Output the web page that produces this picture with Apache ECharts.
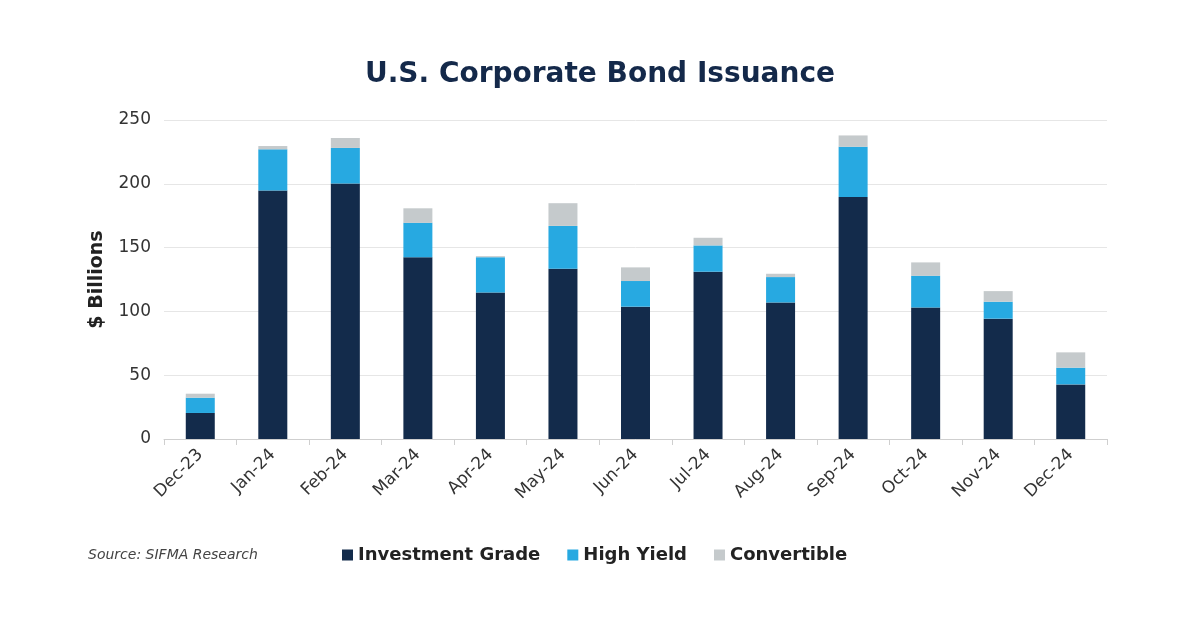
<!DOCTYPE html>
<html><head><meta charset="utf-8">
<script src="https://cdn.jsdelivr.net/npm/echarts@6/dist/echarts.min.js"></script>
<style>html,body{margin:0;padding:0;background:#fff}#c{width:1200px;height:627px}</style>
</head><body><div id="c"></div>
<script>
const categories = ['Dec-23','Jan-24','Feb-24','Mar-24','Apr-24','May-24','Jun-24','Jul-24','Aug-24','Sep-24','Oct-24','Nov-24','Dec-24'];
const investmentGrade = [20.4,194.7,200.2,142.5,114.8,133.4,103.7,131.1,107.0,189.6,103.1,94.3,42.8];
const highYield = [12.0,32.3,27.9,26.9,27.7,33.6,20.1,20.6,19.9,39.4,24.8,13.3,13.1];
const convertible = [3.1,2.6,7.8,11.4,0.8,17.8,10.7,6.0,2.6,8.9,10.5,8.3,12.0];
const yTicks = [0,50,100,150,200,250];

const chart = echarts.init(document.getElementById('c'));
const font = '"DejaVu Sans", Roboto, sans-serif';
chart.setOption({
  animation:false,
  title:{text:'U.S. Corporate Bond Issuance', left:'center', top:56,
    textStyle:{fontFamily:font, fontWeight:'bold', fontSize:28, color:'#14294a'}},
  graphic:[{type:'text', left:88, top:548, style:{text:'Source: SIFMA Research', fontFamily:font, fontStyle:'italic', fontSize:14, fill:'#444'}}],
  legend:{top:541, left:337, itemWidth:11, itemHeight:11, itemGap:27, icon:'rect',
    textStyle:{fontFamily:font, fontSize:18, fontWeight:'bold', color:'#222'},
    data:['Investment Grade','High Yield','Convertible']},
  grid:{left:164, right:93, top:120, bottom:188},
  xAxis:{type:'category', data:categories,
    axisLine:{lineStyle:{color:'#cfcfcf'}}, axisTick:{show:true, length:6, lineStyle:{color:'#cfcfcf'}},
    axisLabel:{rotate:45, fontFamily:font, fontSize:17, color:'#333', margin:13}},
  yAxis:{type:'value', min:yTicks[0], max:yTicks[yTicks.length-1], interval:50,
    name:'$ Billions', nameLocation:'middle', nameGap:57, nameRotate:90,
    nameTextStyle:{fontFamily:font, fontWeight:'bold', fontSize:19, color:'#222'},
    axisLabel:{fontFamily:font, fontSize:17, color:'#333', margin:13},
    splitLine:{lineStyle:{color:'#e6e6e6'}}, axisLine:{show:false}, axisTick:{show:false}},
  series:[
    {name:'Investment Grade', type:'bar', stack:'t', data:investmentGrade, barWidth:29, itemStyle:{color:'#132b4b'}},
    {name:'High Yield', type:'bar', stack:'t', data:highYield, barWidth:29, itemStyle:{color:'#27a9e1'}},
    {name:'Convertible', type:'bar', stack:'t', data:convertible, barWidth:29, itemStyle:{color:'#c5cacc'}}
  ]
});
</script></body></html>
